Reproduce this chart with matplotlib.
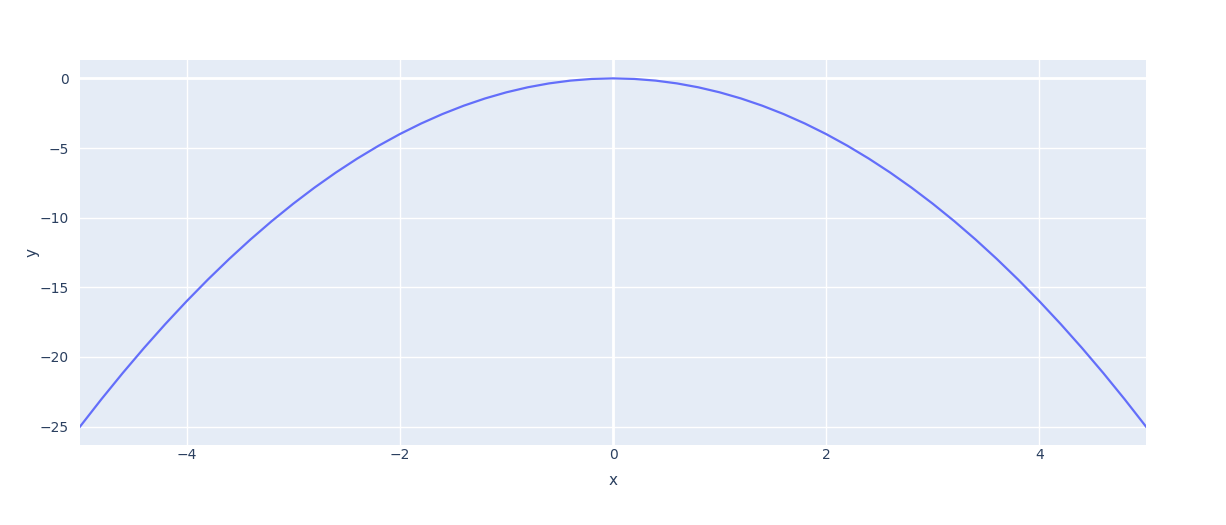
import matplotlib.pyplot as plt

# values
x = [-5.0, -4.8, -4.6, -4.4, -4.2, -4.0, -3.8, -3.6, -3.4, -3.2, -3.0,
     -2.8, -2.6, -2.4, -2.2, -2.0, -1.8, -1.6, -1.4, -1.2, -1.0,
     -0.8, -0.6, -0.4, -0.2, 0.0, 0.2, 0.4, 0.6, 0.8, 1.0,
     1.2, 1.4, 1.6, 1.8, 2.0, 2.2, 2.4, 2.6, 2.8, 3.0,
     3.2, 3.4, 3.6, 3.8, 4.0, 4.2, 4.4, 4.6, 4.8, 5.0]
y = [-25.0, -23.04, -21.16, -19.36, -17.64, -16.0, -14.44, -12.96, -11.56, -10.24, -9.0,
     -7.84, -6.76, -5.76, -4.84, -4.0, -3.24, -2.56, -1.96, -1.44, -1.0,
     -0.64, -0.36, -0.16, -0.04, 0.0, -0.04, -0.16, -0.36, -0.64, -1.0,
     -1.44, -1.96, -2.56, -3.24, -4.0, -4.84, -5.76, -6.76, -7.84, -9.0,
     -10.24, -11.56, -12.96, -14.44, -16.0, -17.64, -19.36, -21.16, -23.04, -25.0]
xticks = [-4, -2, 0, 2, 4]
yticks = [0, -5, -10, -15, -20, -25]

txt = '#2a3f5f'
fig = plt.figure(figsize=(12.26, 5.25), dpi=100)
ax = fig.add_axes([80 / 1226, 80 / 525, 1066 / 1226, 385 / 525])
ax.set_facecolor('#E5ECF6')

ax.plot(x, y, color='#636EFA', lw=1.6, zorder=3)

ax.set_xlim(-5, 5)
ax.set_ylim(-26.32, 1.32)
ax.set_xticks(xticks)
ax.set_yticks(yticks)
ax.set_xticklabels(['\u2212' + str(abs(t)) if t < 0 else str(t) for t in xticks])
ax.set_yticklabels(['\u2212' + str(abs(t)) if t < 0 else str(t) for t in yticks])
ax.grid(True, color='white', lw=1, zorder=1)
ax.axvline(0, color='white', lw=2, zorder=2)
ax.axhline(0, color='white', lw=2, zorder=2)
for s in ax.spines.values():
    s.set_visible(False)
ax.tick_params(length=0, colors=txt, labelsize=10)
ax.tick_params(axis='x', pad=2)
ax.tick_params(axis='y', pad=8)
ax.set_xlabel('x', color=txt, fontsize=11, labelpad=8)
ax.set_ylabel('y', color=txt, fontsize=11, labelpad=0)

fig.savefig('out.png', dpi=100)
